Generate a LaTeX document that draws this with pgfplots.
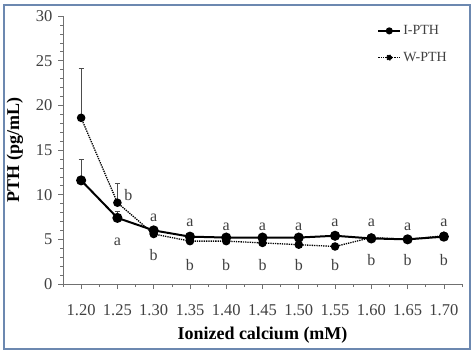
\documentclass[border=0pt]{standalone}
\usepackage{pgfplots}
\pgfplotsset{compat=1.18}
\usepackage{pgfplotstable}
\usepackage{fontspec}
\setmainfont{Liberation Serif}
\definecolor{bordc}{HTML}{6C88B0}
\definecolor{txtc}{HTML}{404040}
\definecolor{axc}{HTML}{707070}
\pgfplotstableread{
x y e
0 11.6 2.4
1 7.4 0.8
2 6.0 0
3 5.3 0
4 5.2 0
5 5.2 0
6 5.2 0
7 5.4 0
8 5.1 0
9 5.0 0
10 5.3 0
}\ipth
\pgfplotstableread{
x y e
0 18.6 5.6
1 9.1 2.2
2 5.6 0
3 4.8 0
4 4.8 0
5 4.6 0
6 4.4 0
7 4.2 0
8 5.2 0
9 5.0 0
10 5.4 0
}\wpth
\pgfplotstableread{
x y l
1 4.7 a
2 7.4 a
3 6.8 a
4 6.4 a
5 6.4 a
6 6.4 a
7 6.8 a
8 6.8 a
9 6.4 a
10 6.8 a
1.3 10.0 b
2 3.2 b
3 2.1 b
4 2.1 b
5 2.1 b
6 2.1 b
7 2.1 b
8 2.7 b
9 2.7 b
10 2.7 b
}\letters
\begin{document}
\begin{tikzpicture}
\useasboundingbox (0,0) rectangle (474pt,354pt);
\draw[bordc, line width=1.8pt] (4pt,5pt) rectangle (470pt,349pt);
\begin{axis}[
  at={(63pt,70pt)}, anchor=south west,
  scale only axis, width=399pt, height=268pt,
  xmin=-0.5, xmax=10.5, ymin=0, ymax=30,
  axis lines=left, axis line style={-, axc, line width=0.8pt},
  xtick={0,...,10},
  xticklabels={1.20,1.25,1.30,1.35,1.40,1.45,1.50,1.55,1.60,1.65,1.70},
  minor xtick={-0.5,0.5,...,10.5},
  ytick={0,5,...,30},
  minor y tick num=4,
  tick align=outside,
  major tick length=5pt, minor tick length=3pt,
  every tick/.style={axc, line width=0.6pt},
  tick label style={font=\fontsize{16.5}{18}\selectfont, text=txtc},
  xticklabel style={yshift=-12pt},
  yticklabel style={xshift=-2pt},
  /pgf/number format/assume math mode=true,
  xlabel={\textbf{Ionized calcium (mM)}},
  ylabel={\textbf{PTH (pg/mL)}},
  label style={font=\fontsize{18}{20}\selectfont, text=black},
  xlabel style={yshift=-4pt},
  ylabel style={yshift=6pt},
  clip=false,
  legend style={at={(0.975,0.98)}, anchor=north east, draw=none, fill=none,
    font=\fontsize{14}{15}\selectfont, text=txtc, row sep=12pt},
  legend cell align=left,
  legend image code/.code={\draw[#1] (0pt,0pt) -- (22pt,0pt); \fill[black] (11pt,0pt) circle (2.5pt);},
]
\addplot[black, line width=2pt, mark=*, mark size=4pt,
  error bars/.cd, y dir=plus, y explicit,
  error bar style={black!70, line width=0.6pt},
  error mark options={black!70, mark size=2.5pt, rotate=90}]
  table[x=x, y=y, y error=e]{\ipth};
\addlegendentry{I-PTH}
\addplot[black, line width=1.3pt, densely dotted, mark=*, mark size=3.6pt, mark options={solid},
  error bars/.cd, y dir=plus, y explicit,
  error bar style={black!70, line width=0.6pt, solid},
  error mark options={black!70, mark size=2.5pt, rotate=90, solid}]
  table[x=x, y=y, y error=e]{\wpth};
\addlegendentry{W-PTH}
\addplot[only marks, mark=none, nodes near coords, point meta=explicit symbolic,
  nodes near coords style={anchor=center, font=\fontsize{16}{17}\selectfont, text=txtc}]
  table[x=x, y=y, meta=l]{\letters};
\end{axis}
\end{tikzpicture}
\end{document}
